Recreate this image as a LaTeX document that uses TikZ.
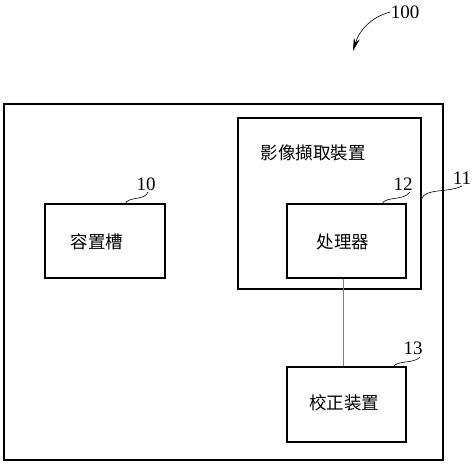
\documentclass[tikz,border=0pt]{standalone}
\usepackage{fontspec}
\setmainfont{Liberation Serif}
\newfontfamily\cjk{Noto Sans CJK TC}
\usetikzlibrary{arrows.meta}
\begin{document}
\begin{tikzpicture}[x=1pt,y=-1pt,
  blk/.style={draw, line width=1.6pt, inner sep=0pt},
  cjkt/.style={font=\cjk\fontsize{17.5}{17.5}\selectfont, inner sep=0pt},
  num/.style={font=\fontsize{19}{19}\selectfont, inner sep=0pt},
  lead/.style={line width=0.6pt}]
\useasboundingbox (0,0) rectangle (474,467);
% outer frame
\node[blk, minimum width=439pt, minimum height=356pt] (outer) at (223.5,282) {};
% boxes
\node[blk, minimum width=120pt, minimum height=74pt] (b10) at (105,241) {};
\node[blk, minimum width=183pt, minimum height=171pt] (b11) at (329.5,203.5) {};
\node[blk, minimum width=119pt, minimum height=74pt] (b12) at (346.5,241) {};
\node[blk, minimum width=119pt, minimum height=75pt] (b13) at (346.5,404.5) {};
% texts
\node[cjkt] (t10) at (97,242) {容置槽};
\node[cjkt] (t11) at (313,153) {影像擷取裝置};
\node[cjkt] (t12) at (343,242) {处理器};
\node[cjkt] (t13) at (344,403) {校正装置};
% connector
\draw[line width=0.8pt, gray] (b12.south -| 343,0) -- (b13.north -| 343,0);
% labels
\node[num] (n10) at (146,184) {10};
\node[num] (n11) at (462,178) {11};
\node[num] (n12) at (403,184) {12};
\node[num] (n13) at (413,348) {13};
\node[num] (n100) at (405,12) {100};
% leaders
\coordinate (l10) at (125,204);
\coordinate (l11) at (421.5,199);
\coordinate (l12) at (382,204);
\coordinate (l13) at (393,367);
\draw[lead] (l10) .. controls (128,196) and (145,201) .. (148,192);
\draw[lead] (l12) .. controls (385,196) and (404,201) .. (410,192);
\draw[lead] (l11) .. controls (425,188) and (448,193) .. (462,186);
\draw[lead] (l13) .. controls (397,360) and (414,364) .. (420,357);
% 100 arrow
\coordinate (a100) at (353,51);
\draw[lead, -{Stealth[length=13pt,width=6pt]}] (n100.west) .. controls (374,16) and (360,28) .. (a100);
\end{tikzpicture}
\end{document}
